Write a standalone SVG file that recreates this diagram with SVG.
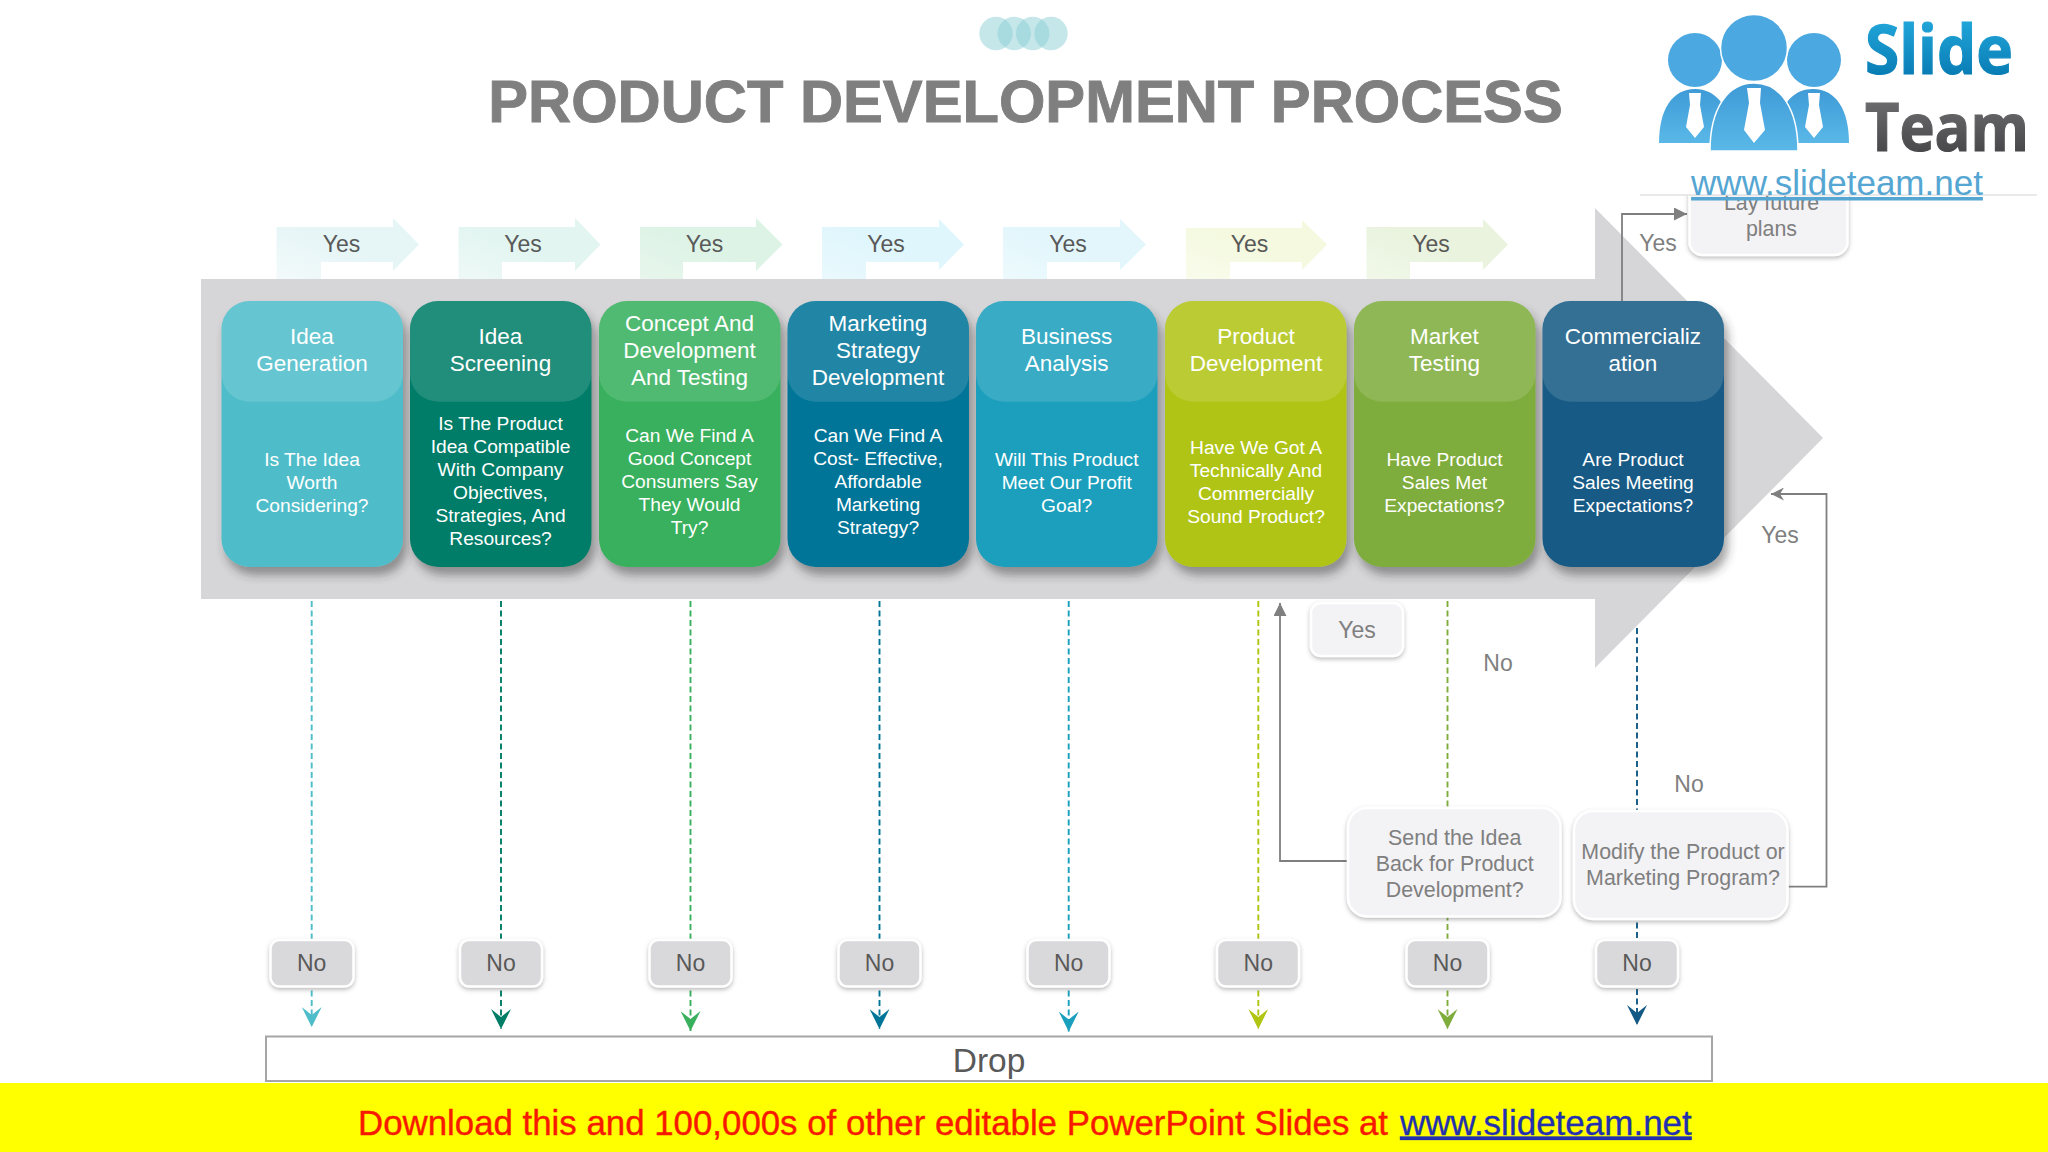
<svg xmlns="http://www.w3.org/2000/svg" width="2048" height="1152" viewBox="0 0 2048 1152">
<style>
text{font-family:"Liberation Sans",Arial,sans-serif;text-anchor:middle}
.h{font-size:22.5px;fill:#fff}
.b{font-size:19.2px;fill:#fff}
.top{fill:#fff;fill-opacity:.13}
.y{font-size:23px;fill:#595959}
.g{font-size:21.4px;fill:#7f7f7f}
.g2{font-size:23px;fill:#7f7f7f}
.no{font-size:23px;fill:#595959}
.nobox{fill:#d9d9db;stroke:#fff;stroke-width:2.5;filter:url(#sm)}
.soft{fill:#f3f2f5;stroke:#fff;stroke-width:2.5;filter:url(#sm)}
.d{fill:none;stroke-width:1.9;stroke-dasharray:6 3.5}
.c{fill:none;stroke:#7f7f7f;stroke-width:1.8}
</style>
<defs>
<filter id="cs" x="-20%" y="-20%" width="145%" height="145%"><feDropShadow dx="4" dy="8" stdDeviation="5" flood-color="#333" flood-opacity=".45"/></filter>
<filter id="sm" x="-20%" y="-20%" width="140%" height="140%"><feDropShadow dx="0" dy="2" stdDeviation="2.2" flood-color="#555" flood-opacity=".4"/></filter>
<linearGradient id="gs" x1="0" y1="0" x2="0" y2="1"><stop offset="0" stop-color="#2ab4e6"/><stop offset="1" stop-color="#006fa8"/></linearGradient>
<linearGradient id="gt" x1="0" y1="0" x2="0" y2="1"><stop offset="0" stop-color="#7a7a7c"/><stop offset="1" stop-color="#3c3c3e"/></linearGradient>
<linearGradient id="gh" x1="0" y1="0" x2="0" y2="1"><stop offset="0" stop-color="#3f9ad6"/><stop offset="1" stop-color="#5ab8e8"/></linearGradient>
<linearGradient id="y1" x1="0" y1="1" x2="1" y2="0"><stop offset="0" stop-color="#f3fafb"/><stop offset=".5" stop-color="#e6f5f6"/></linearGradient>
<linearGradient id="y2" x1="0" y1="1" x2="1" y2="0"><stop offset="0" stop-color="#eef9f7"/><stop offset=".5" stop-color="#e2f5f1"/></linearGradient>
<linearGradient id="y3" x1="0" y1="1" x2="1" y2="0"><stop offset="0" stop-color="#e8f6ec"/><stop offset=".5" stop-color="#ddf3e6"/></linearGradient>
<linearGradient id="y4" x1="0" y1="1" x2="1" y2="0"><stop offset="0" stop-color="#eaf9fd"/><stop offset=".5" stop-color="#dff6fc"/></linearGradient>
<linearGradient id="y5" x1="0" y1="1" x2="1" y2="0"><stop offset="0" stop-color="#edfafd"/><stop offset=".5" stop-color="#e2f6fb"/></linearGradient>
<linearGradient id="y6" x1="0" y1="1" x2="1" y2="0"><stop offset="0" stop-color="#f9fcec"/><stop offset=".5" stop-color="#f4f9e0"/></linearGradient>
<linearGradient id="y7" x1="0" y1="1" x2="1" y2="0"><stop offset="0" stop-color="#f1f8e9"/><stop offset=".5" stop-color="#e9f3de"/></linearGradient>
<marker id="m1" markerUnits="userSpaceOnUse" markerWidth="20" markerHeight="20" viewBox="0 0 20 20" refX="20" refY="10" orient="auto"><path d="M0,0L8,10L0,20L20,10Z" fill="#4fbdc9"/></marker>
<marker id="m2" markerUnits="userSpaceOnUse" markerWidth="20" markerHeight="20" viewBox="0 0 20 20" refX="20" refY="10" orient="auto"><path d="M0,0L8,10L0,20L20,10Z" fill="#007d67"/></marker>
<marker id="m3" markerUnits="userSpaceOnUse" markerWidth="20" markerHeight="20" viewBox="0 0 20 20" refX="20" refY="10" orient="auto"><path d="M0,0L8,10L0,20L20,10Z" fill="#39b05d"/></marker>
<marker id="m4" markerUnits="userSpaceOnUse" markerWidth="20" markerHeight="20" viewBox="0 0 20 20" refX="20" refY="10" orient="auto"><path d="M0,0L8,10L0,20L20,10Z" fill="#007598"/></marker>
<marker id="m5" markerUnits="userSpaceOnUse" markerWidth="20" markerHeight="20" viewBox="0 0 20 20" refX="20" refY="10" orient="auto"><path d="M0,0L8,10L0,20L20,10Z" fill="#1a9fbc"/></marker>
<marker id="m6" markerUnits="userSpaceOnUse" markerWidth="20" markerHeight="20" viewBox="0 0 20 20" refX="20" refY="10" orient="auto"><path d="M0,0L8,10L0,20L20,10Z" fill="#b0c412"/></marker>
<marker id="m7" markerUnits="userSpaceOnUse" markerWidth="20" markerHeight="20" viewBox="0 0 20 20" refX="20" refY="10" orient="auto"><path d="M0,0L8,10L0,20L20,10Z" fill="#7fad3c"/></marker>
<marker id="m8" markerUnits="userSpaceOnUse" markerWidth="20" markerHeight="20" viewBox="0 0 20 20" refX="20" refY="10" orient="auto"><path d="M0,0L8,10L0,20L20,10Z" fill="#125a85"/></marker>
<marker id="tri" markerUnits="userSpaceOnUse" markerWidth="13" markerHeight="13" viewBox="0 0 13 13" refX="13" refY="6.5" orient="auto"><path d="M0,0L13,6.5L0,13Z" fill="#7f7f7f"/></marker>
<marker id="ste" markerUnits="userSpaceOnUse" markerWidth="13" markerHeight="13" viewBox="0 0 13 13" refX="13" refY="6.5" orient="auto"><path d="M0,0L4,6.5L0,13L13,6.5Z" fill="#7f7f7f"/></marker>
</defs>
<rect width="2048" height="1152" fill="#fff"/>

<g id="dots" fill="#8ccfd6" fill-opacity=".5"><circle cx="996" cy="33.5" r="16.7"/><circle cx="1014.3" cy="33.5" r="16.7"/><circle cx="1032.7" cy="33.5" r="16.7"/><circle cx="1051" cy="33.5" r="16.7"/></g>
<text id="title" x="1025.5" y="122" font-size="59.7" font-weight="700" fill="#7f7f7f" stroke="#7f7f7f" stroke-width=".9">PRODUCT DEVELOPMENT PROCESS</text>

<g id="yes-arrows">
<path fill="url(#y1)" d="M276.5,279V227H393V218L419,244.5L393,271V262H321V279Z"/>
<path fill="url(#y2)" d="M458.5,279V227H575V218L600.5,244.5L575,271V262H502V279Z"/>
<path fill="url(#y3)" d="M640,279V227H756V218L782.5,244.5L756,271V262H683V279Z"/>
<path fill="url(#y4)" d="M822,279V227H939V219L964,244.5L939,270V262H866V279Z"/>
<path fill="url(#y5)" d="M1003,279V227H1120V219L1146,244.5L1120,270V262H1047V279Z"/>
<path fill="url(#y6)" d="M1186,279V228H1302V220L1327,244.5L1302,270V262H1230V279Z"/>
<path fill="url(#y7)" d="M1366.5,279V227H1483V219L1508,244.5L1483,270V262H1410V279Z"/>
</g>
<g id="yes-labels">
<text class="y" x="341.5" y="251.5">Yes</text><text class="y" x="523" y="251.5">Yes</text><text class="y" x="704.5" y="251.5">Yes</text><text class="y" x="886" y="251.5">Yes</text><text class="y" x="1068" y="251.5">Yes</text><text class="y" x="1249.5" y="251.5">Yes</text><text class="y" x="1431" y="251.5">Yes</text>
</g>

<g id="main-arrow"><path fill="#d6d6d8" d="M201,279H1595V208L1823,438L1595,668V599H201Z"/></g>

<g id="connectors">
<path class="d" stroke="#4fbdc9" marker-end="url(#m1)" d="M311.7,601V1027"/>
<path class="d" stroke="#007d67" marker-end="url(#m2)" d="M501,601V1029"/>
<path class="d" stroke="#39b05d" marker-end="url(#m3)" d="M690.5,601V1031"/>
<path class="d" stroke="#007598" marker-end="url(#m4)" d="M879.5,601V1029"/>
<path class="d" stroke="#1a9fbc" marker-end="url(#m5)" d="M1068.7,601V1031.5"/>
<path class="d" stroke="#b0c412" marker-end="url(#m6)" d="M1258.3,601V1029"/>
<path class="d" stroke="#7fad3c" marker-end="url(#m7)" d="M1447.5,601V1029"/>
<path class="d" stroke="#125a85" marker-end="url(#m8)" d="M1637,628V1025"/>
<path class="c" marker-end="url(#tri)" d="M1622,301V214H1687"/>
<path class="c" marker-end="url(#tri)" d="M1347,861H1280V603"/>
<path class="c" marker-end="url(#ste)" d="M1788,886.7H1826.5V494H1771"/>
</g>

<g id="card-1"><rect x="221.5" y="301" width="181.5" height="266" rx="28" fill="#4fbdc9" filter="url(#cs)"/><rect class="top" x="221.5" y="301" width="181.5" height="100.7" rx="28"/>
<text class="h" x="312" y="344">Idea</text><text class="h" x="312" y="371">Generation</text>
<text class="b" x="312" y="466">Is The Idea</text><text class="b" x="312" y="489">Worth</text><text class="b" x="312" y="512">Considering?</text></g>
<g id="card-2"><rect x="410" y="301" width="181.5" height="266" rx="28" fill="#007d67" filter="url(#cs)"/><rect class="top" x="410" y="301" width="181.5" height="100.7" rx="28"/>
<text class="h" x="500.5" y="344">Idea</text><text class="h" x="500.5" y="371">Screening</text>
<text class="b" x="500.5" y="430">Is The Product</text><text class="b" x="500.5" y="453">Idea Compatible</text><text class="b" x="500.5" y="476">With Company</text><text class="b" x="500.5" y="499">Objectives,</text><text class="b" x="500.5" y="522">Strategies, And</text><text class="b" x="500.5" y="545">Resources?</text></g>
<g id="card-3"><rect x="599" y="301" width="181.5" height="266" rx="28" fill="#39b05d" filter="url(#cs)"/><rect class="top" x="599" y="301" width="181.5" height="100.7" rx="28"/>
<text class="h" x="689.5" y="330.5">Concept And</text><text class="h" x="689.5" y="357.5">Development</text><text class="h" x="689.5" y="384.5">And Testing</text>
<text class="b" x="689.5" y="442">Can We Find A</text><text class="b" x="689.5" y="465">Good Concept</text><text class="b" x="689.5" y="488">Consumers Say</text><text class="b" x="689.5" y="511">They Would</text><text class="b" x="689.5" y="534">Try?</text></g>
<g id="card-4"><rect x="787.5" y="301" width="181.5" height="266" rx="28" fill="#007598" filter="url(#cs)"/><rect class="top" x="787.5" y="301" width="181.5" height="100.7" rx="28"/>
<text class="h" x="878" y="330.5">Marketing</text><text class="h" x="878" y="357.5">Strategy</text><text class="h" x="878" y="384.5">Development</text>
<text class="b" x="878" y="442">Can We Find A</text><text class="b" x="878" y="465">Cost- Effective,</text><text class="b" x="878" y="488">Affordable</text><text class="b" x="878" y="511">Marketing</text><text class="b" x="878" y="534">Strategy?</text></g>
<g id="card-5"><rect x="976" y="301" width="181.5" height="266" rx="28" fill="#1a9fbc" filter="url(#cs)"/><rect class="top" x="976" y="301" width="181.5" height="100.7" rx="28"/>
<text class="h" x="1066.7" y="344">Business</text><text class="h" x="1066.7" y="371">Analysis</text>
<text class="b" x="1066.7" y="466">Will This Product</text><text class="b" x="1066.7" y="489">Meet Our Profit</text><text class="b" x="1066.7" y="512">Goal?</text></g>
<g id="card-6"><rect x="1165" y="301" width="181.5" height="266" rx="28" fill="#b0c412" filter="url(#cs)"/><rect class="top" x="1165" y="301" width="181.5" height="100.7" rx="28"/>
<text class="h" x="1256" y="344">Product</text><text class="h" x="1256" y="371">Development</text>
<text class="b" x="1256" y="453.5">Have We Got A</text><text class="b" x="1256" y="476.5">Technically And</text><text class="b" x="1256" y="499.5">Commercially</text><text class="b" x="1256" y="522.5">Sound Product?</text></g>
<g id="card-7"><rect x="1354" y="301" width="181.5" height="266" rx="28" fill="#7fad3c" filter="url(#cs)"/><rect class="top" x="1354" y="301" width="181.5" height="100.7" rx="28"/>
<text class="h" x="1444.5" y="344">Market</text><text class="h" x="1444.5" y="371">Testing</text>
<text class="b" x="1444.5" y="466">Have Product</text><text class="b" x="1444.5" y="489">Sales Met</text><text class="b" x="1444.5" y="512">Expectations?</text></g>
<g id="card-8"><rect x="1542.5" y="301" width="181.5" height="266" rx="28" fill="#125a85" filter="url(#cs)"/><rect class="top" x="1542.5" y="301" width="181.5" height="100.7" rx="28"/>
<text class="h" x="1633" y="344">Commercializ</text><text class="h" x="1633" y="371">ation</text>
<text class="b" x="1633" y="466">Are Product</text><text class="b" x="1633" y="489">Sales Meeting</text><text class="b" x="1633" y="512">Expectations?</text></g>

<g id="no-1"><rect class="nobox" x="270.5" y="940" width="83" height="46.5" rx="9"/><text class="no" x="311.7" y="971">No</text></g>
<g id="no-2"><rect class="nobox" x="460" y="940" width="82" height="46.5" rx="9"/><text class="no" x="501" y="971">No</text></g>
<g id="no-3"><rect class="nobox" x="649.5" y="940" width="82" height="46.5" rx="9"/><text class="no" x="690.5" y="971">No</text></g>
<g id="no-4"><rect class="nobox" x="838.5" y="940" width="82" height="46.5" rx="9"/><text class="no" x="879.5" y="971">No</text></g>
<g id="no-5"><rect class="nobox" x="1027.5" y="940" width="82" height="46.5" rx="9"/><text class="no" x="1068.7" y="971">No</text></g>
<g id="no-6"><rect class="nobox" x="1217" y="940" width="82" height="46.5" rx="9"/><text class="no" x="1258.3" y="971">No</text></g>
<g id="no-7"><rect class="nobox" x="1406.5" y="940" width="82" height="46.5" rx="9"/><text class="no" x="1447.5" y="971">No</text></g>
<g id="no-8"><rect class="nobox" x="1596" y="940" width="82" height="46.5" rx="9"/><text class="no" x="1637" y="971">No</text></g>

<g id="yes-box"><rect class="soft" x="1311" y="603" width="92" height="53" rx="10"/><text class="g2" x="1357" y="637.5">Yes</text></g>
<g id="send-box"><rect class="soft" x="1348" y="808" width="212.5" height="108.5" rx="19"/><text class="g" x="1454.7" y="845">Send the Idea</text><text class="g" x="1454.7" y="871">Back for Product</text><text class="g" x="1454.7" y="897">Development?</text></g>
<g id="modify-box"><rect class="soft" x="1574" y="811" width="213.5" height="108" rx="19"/><text class="g" x="1683" y="859">Modify the Product or</text><text class="g" x="1683" y="885">Marketing Program?</text></g>
<g id="lay-box"><rect class="soft" x="1689.5" y="180" width="158" height="75" rx="13"/><text class="g" x="1771.5" y="210">Lay future</text><text class="g" x="1771.5" y="236">plans</text></g>
<g id="labels"><text class="g2" x="1658" y="250.5">Yes</text><text class="g2" x="1780" y="542.5">Yes</text><text class="g2" x="1498" y="671">No</text><text class="g2" x="1689" y="791.5">No</text></g>

<g id="drop"><rect x="266" y="1036.5" width="1446" height="44.5" fill="#fff" stroke="#a6a6a8" stroke-width="2"/><text x="989" y="1072" font-size="33.5" fill="#595959">Drop</text></g>

<g id="banner"><rect y="1083" width="2048" height="69" fill="#ff0"/><text x="358" y="1134.5" font-size="34.85" fill="#f81a00" stroke="#f81a00" stroke-width=".4" style="text-anchor:start">Download this and 100,000s of other editable PowerPoint Slides at</text><text x="1400" y="1134.5" font-size="35" fill="#2230b0" stroke="#2230b0" stroke-width=".3" text-decoration="underline" style="text-anchor:start">www.slideteam.net</text></g>

<g id="logo">
<rect x="1640" y="0" width="397" height="195" fill="#fff"/><path d="M1640,195H2037" stroke="#e2e2e2" stroke-width="1.5"/>
<path fill="url(#gh)" d="M1659,143C1659,110 1672,89 1695,89C1718,89 1732,110 1732,143Z"/>
<path fill="url(#gh)" d="M1776,143C1776,110 1790,89 1813,89C1836,89 1849,110 1849,143Z"/>
<circle cx="1695" cy="60" r="27" fill="#4ca8e0"/><circle cx="1814" cy="60" r="27" fill="#4ca8e0"/>
<path fill="url(#gh)" stroke="#fff" stroke-width="1.5" d="M1710,151C1710,108 1728,83 1754,83C1780,83 1798,108 1798,151Z"/>
<circle cx="1754" cy="48" r="33.5" fill="#4ca8e0" stroke="#fff" stroke-width="1.5"/>
<path fill="#fff" d="M1689,93H1701L1700,105L1704,127L1695,138L1686,127L1690,105Z"/>
<path fill="#fff" d="M1808,93H1820L1819,105L1823,127L1814,138L1805,127L1809,105Z"/>
<path fill="#fff" d="M1747,88H1761L1760,103L1765,130L1754,143L1744,130L1749,103Z"/>
<text x="1865" y="74" font-size="68" font-weight="700" textLength="148" lengthAdjust="spacingAndGlyphs" stroke="url(#gs)" stroke-width="1.2" style="font-family:'Open Sans',sans-serif;text-anchor:start" fill="url(#gs)">Slide</text>
<text x="1865" y="151" font-size="66" font-weight="700" textLength="164" lengthAdjust="spacingAndGlyphs" stroke="url(#gt)" stroke-width="1.2" style="font-family:'Open Sans',sans-serif;text-anchor:start" fill="url(#gt)">Team</text>
<text x="1837" y="195" font-size="35" fill="#55a6d2" text-decoration="underline">www.slideteam.net</text>
</g>
</svg>
